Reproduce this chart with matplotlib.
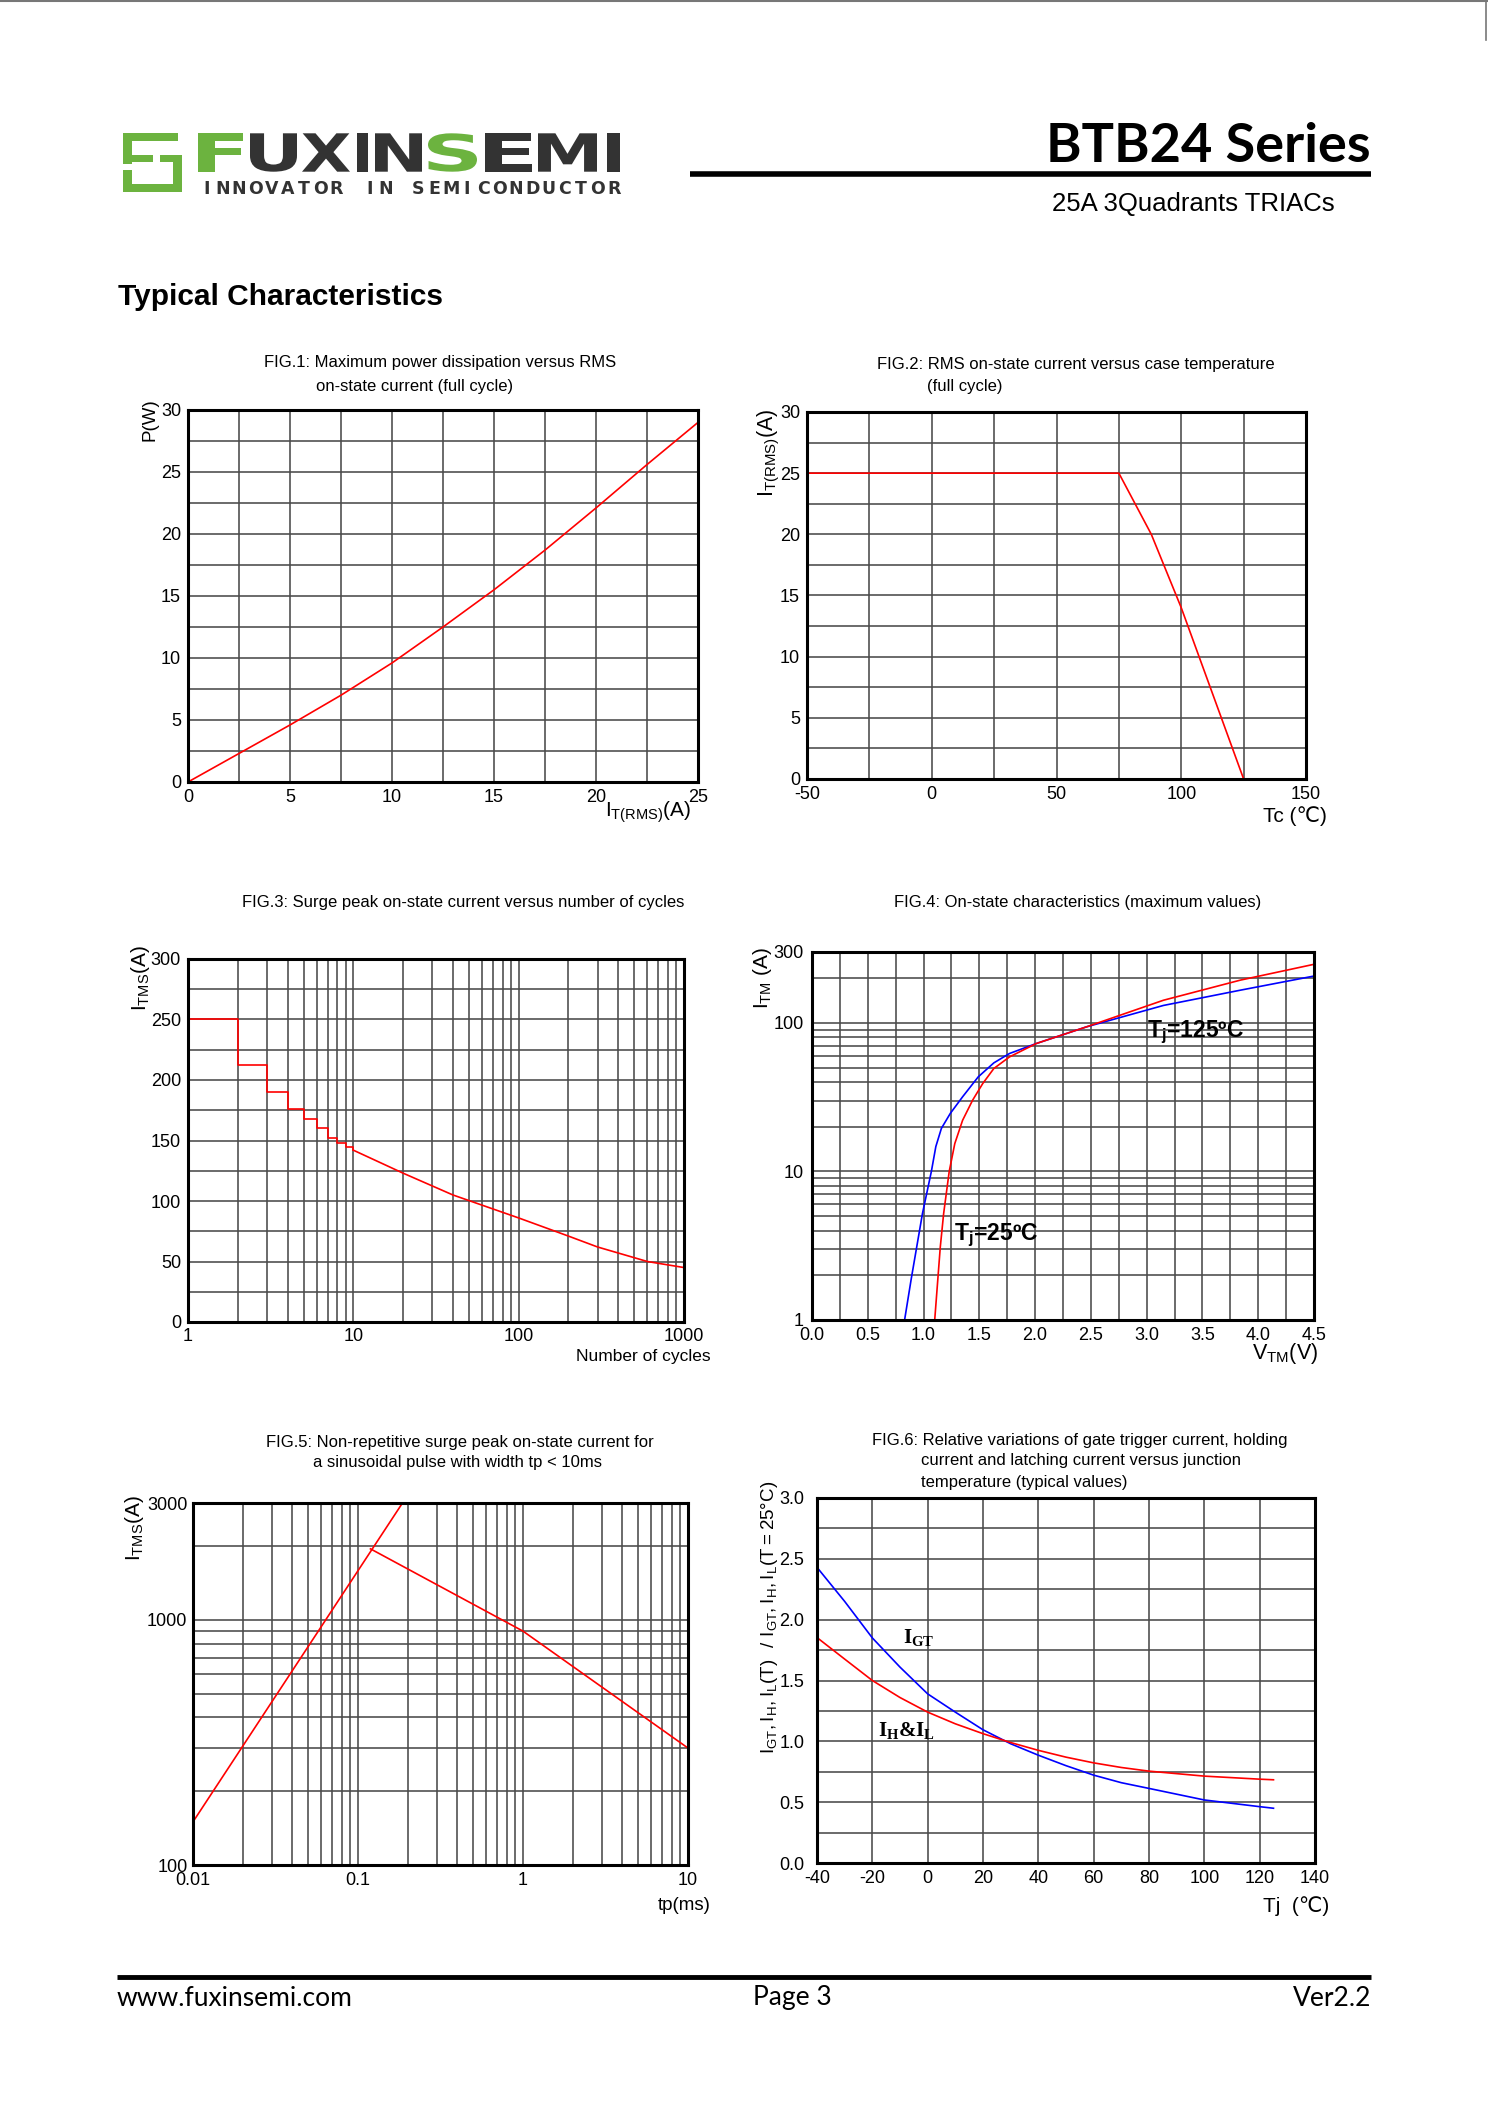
import matplotlib
matplotlib.use('Agg')
import matplotlib.pyplot as plt
from matplotlib.patches import Rectangle, PathPatch
from matplotlib.textpath import TextPath
from matplotlib.font_manager import FontProperties
from matplotlib.transforms import Affine2D
from matplotlib.ticker import FixedLocator, NullFormatter

plt.rcParams['font.family'] = ['Liberation Sans', 'DejaVu Sans']
plt.rcParams['axes.unicode_minus'] = False

# FIG.1  P(W) vs I_T(RMS)
i_rms = [0, 2.5, 5, 7.5, 10, 12.5, 15, 17.5, 20, 22.5, 25]
p_w = [0, 2.3, 4.6, 7.0, 9.6, 12.5, 15.5, 18.7, 22.1, 25.6, 29.0]

# FIG.2  I_T(RMS) vs Tc
tc = [-50, 75, 88, 100, 125]
it_rms = [25, 25, 20, 14, 0]

# FIG.3  surge current vs number of cycles
n_step = [1, 2, 3, 4, 5, 6, 7, 8, 9, 10]
i_step = [250, 212, 190, 176, 168, 160, 152, 148, 145, 142]
n_curve = [10, 20, 40, 100, 200, 300, 600, 1000]
i_curve = [142, 123, 105, 86, 71, 62, 50, 45]

# FIG.4  on-state characteristics
v_125 = [0.83, 0.89, 0.99, 1.07, 1.11, 1.16, 1.24, 1.35, 1.49, 1.63, 1.77, 2.01, 2.46, 3.15, 3.84, 4.49]
i_125 = [1, 1.9, 5.2, 10, 14.7, 19.5, 24.6, 31.8, 43.3, 53.8, 62.2, 72.6, 94, 131, 166, 206]
v_25 = [1.10, 1.15, 1.18, 1.23, 1.28, 1.35, 1.44, 1.53, 1.63, 1.77, 2.01, 2.46, 3.15, 3.84, 4.49]
i_25 = [1, 3.1, 5.2, 10, 15.4, 22.1, 30.2, 39, 49.3, 59, 72.6, 94, 142, 194, 247]

# FIG.5  non-repetitive surge current vs pulse width
tp_rise = [0.01, 0.186]
itsm_rise = [150, 3000]
tp_fall = [0.119, 1, 10]
itsm_fall = [1950, 900, 300]

# FIG.6  relative variation vs Tj
tj = [-40, -30, -20, -10, 0, 10, 20, 30, 40, 50, 60, 70, 80, 100, 120, 125]
igt = [2.43, 2.15, 1.85, 1.61, 1.39, 1.24, 1.095, 0.98, 0.886, 0.80, 0.722, 0.66, 0.613, 0.518, 0.463, 0.45]
ih_il = [1.853, 1.676, 1.50, 1.36, 1.24, 1.144, 1.063, 0.99, 0.926, 0.87, 0.823, 0.785, 0.755, 0.714, 0.689, 0.684]

W, H = 1488, 2104
fig = plt.figure(figsize=(W / 100, H / 100), dpi=100)

# page layer in pixel coords (y down)
bg = fig.add_axes([0, 0, 1, 1])
bg.set_xlim(0, W)
bg.set_ylim(H, 0)
bg.axis('off')

TICK = 13


def box(l, t, r, b):
    return fig.add_axes([l / W, 1 - b / H, (r - l) / W, (b - t) / H])


def frame(ax):
    for s in ax.spines.values():
        s.set_linewidth(2.2)
        s.set_color('black')
    ax.grid(which='both', color='#4a4a4a', linewidth=1.15)
    ax.set_axisbelow(True)
    ax.tick_params(which='both', length=0, labelsize=TICK, pad=5)
    ax.xaxis.set_minor_formatter(NullFormatter())
    ax.yaxis.set_minor_formatter(NullFormatter())


def dec_minor(lo, hi):
    out = []
    d = lo
    while d < hi:
        out += [k * d for k in range(2, 10)]
        d *= 10
    return out


# ---- header ----
green, dark = '#6cb33f', '#333333'
icon = [(40, 40, 205, 63), (40, 40, 66, 132), (40, 104, 128, 126),
        (150, 104, 215, 126), (190, 104, 215, 215), (62, 192, 215, 215),
        (40, 150, 66, 215)]
for x0, y0, x1, y1 in icon:
    bg.add_patch(Rectangle((x0 / 3 + 110, y0 / 3 + 120), (x1 - x0) / 3, (y1 - y0) / 3,
                           color=green, lw=0))

logo = [('F', 198, 243, green), ('U', 250, 297, dark), ('X', 302, 350, dark),
        ('I', 357, 368, dark), ('N', 375, 422, dark), ('S', 428, 477, green),
        ('E', 485, 532, dark), ('M', 538, 597, dark), ('I', 607, 620, dark)]
fp = FontProperties(family='DejaVu Sans', weight='bold')
for ch, x0, x1, col in logo:
    tp = TextPath((0, 0), ch, size=1, prop=fp)
    ext = tp.get_extents()
    sx = (x1 - x0) / ext.width
    sy = (171.7 - 133.3) / ext.height
    tr = Affine2D().translate(-ext.x0, -ext.y0).scale(sx, -sy).translate(x0, 171.7)
    bg.add_patch(PathPatch(tr.transform_path(tp), color=col, lw=0))

sub = 'INNOVATOR IN SEMICONDUCTOR'
pitch = (622 - 198) / len(sub)
for k, ch in enumerate(sub):
    bg.text(198 + pitch * (k + 0.5), 188.5, ch, ha='center', va='center',
            fontsize=12.5, fontweight='bold', color=dark, family='DejaVu Sans')

bg.text(1371, 146, 'BTB24 Series', ha='right', va='center', fontsize=39,
        fontweight='bold', family='Lato')
bg.plot([690, 1371], [174, 174], color='black', lw=4, solid_capstyle='butt')
bg.text(1335, 204, '25A 3Quadrants TRIACs', ha='right', va='center', fontsize=18.5)
bg.text(118, 297, 'Typical Characteristics', ha='left', va='center', fontsize=21.5,
        fontweight='bold')

# page border
bg.plot([0, W], [1, 1], color='#777777', lw=1.5)
bg.plot([W - 2, W - 2], [0, 40], color='#777777', lw=1.2)

# ---- FIG.1 ----
ax = box(188, 410, 698, 782)
ax.plot(i_rms, p_w, color='red', lw=1.2)
ax.set_xlim(0, 25)
ax.set_ylim(0, 30)
ax.set_xticks(range(0, 26, 5))
ax.set_yticks(range(0, 31, 5))
ax.xaxis.set_minor_locator(FixedLocator([2.5, 7.5, 12.5, 17.5, 22.5]))
ax.yaxis.set_minor_locator(FixedLocator([2.5, 7.5, 12.5, 17.5, 22.5, 27.5]))
frame(ax)
bg.text(264, 363, 'FIG.1: Maximum power dissipation versus RMS', va='center', fontsize=12)
bg.text(316, 386, 'on-state current (full cycle)', va='center', fontsize=12)
bg.text(150, 420, 'P(W)', rotation=90, ha='center', va='center', fontsize=13.5)
bg.text(605, 812, r'$\mathregular{I_{T(RMS)}}$(A)', ha='left', va='center', fontsize=15)

# ---- FIG.2 ----
ax = box(807, 412, 1306, 779)
ax.plot(tc, it_rms, color='red', lw=1.2)
ax.set_xlim(-50, 150)
ax.set_ylim(0, 30)
ax.set_xticks(range(-50, 151, 50))
ax.set_yticks(range(0, 31, 5))
ax.xaxis.set_minor_locator(FixedLocator([-25, 25, 75, 125]))
ax.yaxis.set_minor_locator(FixedLocator([2.5, 7.5, 12.5, 17.5, 22.5, 27.5]))
frame(ax)
bg.text(877, 364, 'FIG.2: RMS on-state current versus case temperature', va='center', fontsize=12)
bg.text(927, 387, '(full cycle)', va='center', fontsize=12)
bg.text(769, 453, r'$\mathregular{I_{T(RMS)}}$(A)', rotation=90, ha='center', va='center', fontsize=15.5)
bg.text(1327, 816, 'Tc (℃)', ha='right', va='center', fontsize=15)

# ---- FIG.3 ----
ax = box(188, 959, 684, 1322)
ax.plot(n_step, i_step, color='red', lw=1.2, drawstyle='steps-post')
ax.plot(n_curve, i_curve, color='red', lw=1.2)
ax.set_xscale('log')
ax.set_xlim(1, 1000)
ax.set_ylim(0, 300)
ax.set_xticks([1, 10, 100, 1000])
ax.set_xticklabels(['1', '10', '100', '1000'])
ax.xaxis.set_minor_locator(FixedLocator(dec_minor(1, 1000)))
ax.set_yticks(range(0, 301, 50))
ax.yaxis.set_minor_locator(FixedLocator(range(25, 300, 50)))
frame(ax)
ax.tick_params(axis='x', pad=4)
bg.text(242, 903, 'FIG.3: Surge peak on-state current versus number of cycles', va='center', fontsize=12)
bg.text(140, 978, r'$\mathregular{I_{TMS}}$(A)', rotation=90, ha='center', va='center', fontsize=15)
bg.text(711, 1356, 'Number of cycles', ha='right', va='center', fontsize=12.5)

# ---- FIG.4 ----
ax = box(812, 952, 1314, 1320)
ax.plot(v_125, i_125, color='blue', lw=1.2)
ax.plot(v_25, i_25, color='red', lw=1.2)
ax.set_yscale('log')
ax.set_xlim(0, 4.5)
ax.set_ylim(1, 300)
ax.set_xticks([k * 0.5 for k in range(10)])
ax.set_xticklabels(['%.1f' % (k * 0.5) for k in range(10)])
ax.xaxis.set_minor_locator(FixedLocator([k * 0.5 + 0.25 for k in range(9)]))
ax.set_yticks([1, 10, 100, 300])
ax.set_yticklabels(['1', '10', '100', '300'])
ax.yaxis.set_minor_locator(FixedLocator(dec_minor(1, 100) + [200]))
frame(ax)
ax.tick_params(axis='y', pad=6)
ax.text(3.0, 87, r'$\mathregular{T_j}$=125ºC', ha='left', va='center', fontsize=16.5, fontweight='bold')
ax.text(1.27, 3.7, r'$\mathregular{T_j}$=25ºC', ha='left', va='center', fontsize=16.5, fontweight='bold')
bg.text(894, 903, 'FIG.4: On-state characteristics (maximum values)', va='center', fontsize=12)
bg.text(762, 978, r'$\mathregular{I_{TM}}$ (A)', rotation=90, ha='center', va='center', fontsize=15)
bg.text(1318, 1354, r'$\mathregular{V_{TM}}$(V)', ha='right', va='center', fontsize=15.5)

# ---- FIG.5 ----
ax = box(193, 1503, 688, 1865)
ax.plot(tp_rise, itsm_rise, color='red', lw=1.2)
ax.plot(tp_fall, itsm_fall, color='red', lw=1.2)
ax.set_xscale('log')
ax.set_yscale('log')
ax.set_xlim(0.01, 10)
ax.set_ylim(100, 3000)
ax.set_xticks([0.01, 0.1, 1, 10])
ax.set_xticklabels(['0.01', '0.1', '1', '10'])
ax.xaxis.set_minor_locator(FixedLocator(dec_minor(0.01, 10)))
ax.set_yticks([100, 1000, 3000])
ax.set_yticklabels(['100', '1000', '3000'])
ax.yaxis.set_minor_locator(FixedLocator(dec_minor(100, 1000)[:8] + [2000]))
frame(ax)
ax.tick_params(axis='y', pad=4)
bg.text(266, 1442, 'FIG.5: Non-repetitive surge peak on-state current for', va='center', fontsize=12)
bg.text(313, 1462, 'a sinusoidal pulse with width tp < 10ms', va='center', fontsize=12)
bg.text(134, 1528, r'$\mathregular{I_{TMS}}$(A)', rotation=90, ha='center', va='center', fontsize=15)
bg.text(711, 1906, 'tp(ms)', ha='right', va='center', fontsize=13.5)

# ---- FIG.6 ----
ax = box(817, 1498, 1315, 1863)
ax.plot(tj, igt, color='blue', lw=1.2)
ax.plot(tj, ih_il, color='red', lw=1.2)
ax.set_xlim(-40, 140)
ax.set_ylim(0, 3)
ax.set_xticks(range(-40, 141, 20))
ax.set_yticks([k * 0.5 for k in range(7)])
ax.set_yticklabels(['%.1f' % (k * 0.5) for k in range(7)])
ax.yaxis.set_minor_locator(FixedLocator([k * 0.5 + 0.25 for k in range(6)]))
frame(ax)
ax.tick_params(axis='y', pad=9)
ax.text(-9, 1.85, r'$\mathregular{I_{GT}}$', ha='left', va='center', fontsize=15,
        fontweight='bold', family='Liberation Serif')
ax.text(-18, 1.09, r'$\mathregular{I_H}$&$\mathregular{I_L}$', ha='left', va='center', fontsize=15,
        fontweight='bold', family='Liberation Serif')
bg.text(872, 1441, 'FIG.6: Relative variations of gate trigger current, holding', va='center', fontsize=12)
bg.text(921, 1461, 'current and latching current versus junction', va='center', fontsize=12)
bg.text(921, 1482, 'temperature (typical values)', va='center', fontsize=12)
bg.text(770, 1617, r'$\mathregular{I_{GT},I_H,I_L(T)\ \ /\ I_{GT},I_H,I_L(T=25°C)}$',
        rotation=90, ha='center', va='center', fontsize=13.5)
bg.text(1329, 1906, 'Tj  (℃)', ha='right', va='center', fontsize=15)

# ---- footer ----
bg.plot([117, 1371], [1977, 1977], color='black', lw=3.5, solid_capstyle='butt')
bg.text(117, 1998, 'www.fuxinsemi.com', ha='left', va='center', fontsize=19, family='Lato')
bg.text(792, 1998, 'Page 3', ha='center', va='center', fontsize=19, family='Lato')
bg.text(1371, 1998, 'Ver2.2', ha='right', va='center', fontsize=19, family='Lato')

fig.savefig('out.png', dpi=100)
